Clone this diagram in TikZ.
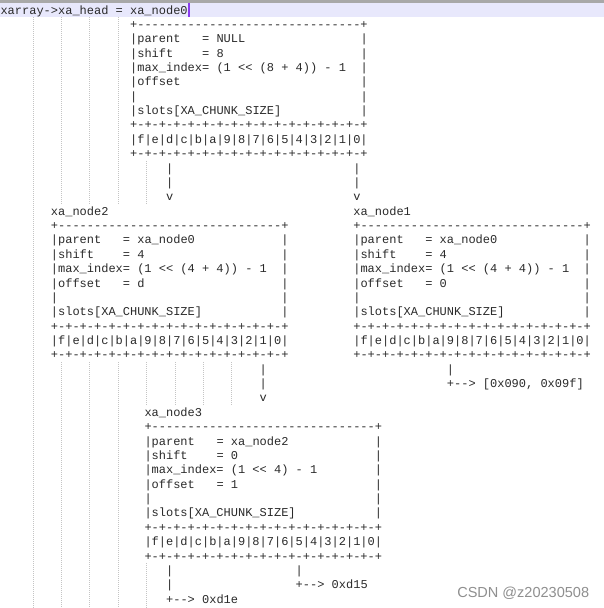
\documentclass[tikz,border=0pt]{standalone}
\usepackage{fontspec}
\setmonofont{Liberation Mono}
\newfontfamily\wmfont{Liberation Sans}
\definecolor{txtc}{HTML}{2A2A2A}
\definecolor{bandc}{HTML}{E8E8FC}
\definecolor{topc}{HTML}{A8A8A8}
\definecolor{cursc}{HTML}{8A3CF0}
\definecolor{guidec}{HTML}{C4C4C4}
\definecolor{wmc}{HTML}{8F8F8F}
\newcounter{segc}
\newcommand\seg[3]{\stepcounter{segc}\node[txt] (s\arabic{segc}) at ({0.5+#1*7.2},{14+14.37*#2}) {#3};}
\newcommand\TB{+-------------------------------+}
\newcommand\SB{+-+-+-+-+-+-+-+-+-+-+-+-+-+-+-+-+}
\newcommand\CB{|f|e|d|c|b|a|9|8|7|6|5|4|3|2|1|0|}
\tikzset{
  txt/.style={anchor=base west, inner sep=0pt, outer sep=0pt, text=txtc,
    font=\ttfamily\fontsize{9}{9}\selectfont},
  guide/.style={draw=guidec, line width=0.75pt, dash pattern=on 0.75pt off 0.75pt},
}
\begin{document}
\begin{tikzpicture}[x=0.75pt, y=-0.75pt]
\useasboundingbox (0,0) rectangle (604,608);
\fill[white] (0,0) rectangle (604,608);
% editor current-line band
\fill[topc] (0,0) rectangle (604,2.6);
\fill[bandc] (0,2.6) rectangle (604,17.4);
\draw[cursc, line width=0.9pt] (189,2.8) -- (189,17.4);
% indent guides
\draw[guide] (33,17.2) -- (33,608);
\foreach \gx in {61.4,89.8,118.2}{
  \draw[guide] (\gx,17.2) -- (\gx,204);
  \draw[guide] (\gx,362.1) -- (\gx,608);
}
\draw[guide] (146.6,160.9) -- (146.6,204);
\draw[guide] (146.6,362.1) -- (146.6,405.2);
\draw[guide] (146.6,563.2) -- (146.6,608);
\foreach \gx in {175,203.4,231.8}{
  \draw[guide] (\gx,362.1) -- (\gx,405.2);
}
% line 0
\seg{0}{0}{xarray->xa\_head = xa\_node0}
% xa_node0
\seg{18}{1}{\TB}
\seg{18}{2}{|parent}\seg{28}{2}{= NULL}\seg{50}{2}{|}
\seg{18}{3}{|shift}\seg{28}{3}{= 8}\seg{50}{3}{|}
\seg{18}{4}{|max\_index= (1 << (8 + 4)) - 1}\seg{50}{4}{|}
\seg{18}{5}{|offset}\seg{50}{5}{|}
\seg{18}{6}{|}\seg{50}{6}{|}
\seg{18}{7}{|slots[XA\_CHUNK\_SIZE]}\seg{50}{7}{|}
\seg{18}{8}{\SB}
\seg{18}{9}{\CB}
\seg{18}{10}{\SB}
\seg{23}{11}{|}\seg{49}{11}{|}
\seg{23}{12}{|}\seg{49}{12}{|}
\seg{23}{13}{v}\seg{49}{13}{v}
% xa_node2 and xa_node1
\seg{7}{14}{xa\_node2}\seg{49}{14}{xa\_node1}
\seg{7}{15}{\TB}\seg{49}{15}{\TB}
\seg{7}{16}{|parent}\seg{17}{16}{= xa\_node0}\seg{39}{16}{|}
\seg{49}{16}{|parent}\seg{59}{16}{= xa\_node0}\seg{81}{16}{|}
\seg{7}{17}{|shift}\seg{17}{17}{= 4}\seg{39}{17}{|}
\seg{49}{17}{|shift}\seg{59}{17}{= 4}\seg{81}{17}{|}
\seg{7}{18}{|max\_index= (1 << (4 + 4)) - 1}\seg{39}{18}{|}
\seg{49}{18}{|max\_index= (1 << (4 + 4)) - 1}\seg{81}{18}{|}
\seg{7}{19}{|offset}\seg{17}{19}{= d}\seg{39}{19}{|}
\seg{49}{19}{|offset}\seg{59}{19}{= 0}\seg{81}{19}{|}
\seg{7}{20}{|}\seg{39}{20}{|}
\seg{49}{20}{|}\seg{81}{20}{|}
\seg{7}{21}{|slots[XA\_CHUNK\_SIZE]}\seg{39}{21}{|}
\seg{49}{21}{|slots[XA\_CHUNK\_SIZE]}\seg{81}{21}{|}
\seg{7}{22}{\SB}\seg{49}{22}{\SB}
\seg{7}{23}{\CB}\seg{49}{23}{\CB}
\seg{7}{24}{\SB}\seg{49}{24}{\SB}
\seg{36}{25}{|}\seg{62}{25}{|}
\seg{36}{26}{|}\seg{62}{26}{+--> [0x090, 0x09f]}
\seg{36}{27}{v}
% xa_node3
\seg{20}{28}{xa\_node3}
\seg{20}{29}{\TB}
\seg{20}{30}{|parent}\seg{30}{30}{= xa\_node2}\seg{52}{30}{|}
\seg{20}{31}{|shift}\seg{30}{31}{= 0}\seg{52}{31}{|}
\seg{20}{32}{|max\_index= (1 << 4) - 1}\seg{52}{32}{|}
\seg{20}{33}{|offset}\seg{30}{33}{= 1}\seg{52}{33}{|}
\seg{20}{34}{|}\seg{52}{34}{|}
\seg{20}{35}{|slots[XA\_CHUNK\_SIZE]}\seg{52}{35}{|}
\seg{20}{36}{\SB}
\seg{20}{37}{\CB}
\seg{20}{38}{\SB}
\seg{23}{39}{|}\seg{41}{39}{|}
\seg{23}{40}{|}\seg{41}{40}{+--> 0xd15}
\seg{23}{41}{+--> 0xd1e}
% watermark
\node[anchor=base west, inner sep=0pt, text=wmc, font=\wmfont\fontsize{10.9}{11}\selectfont] (wm) at (457,597) {CSDN @z20230508};
\end{tikzpicture}
\end{document}
